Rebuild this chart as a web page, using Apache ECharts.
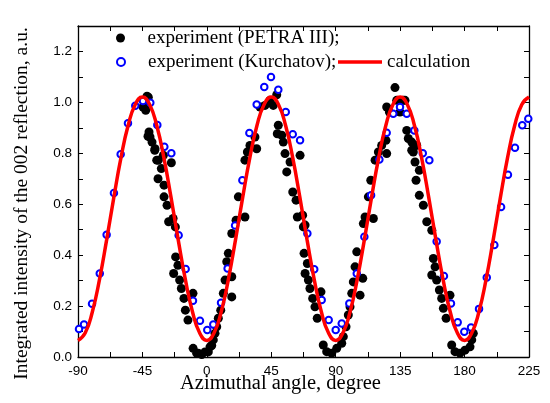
<!DOCTYPE html>
<html>
<head>
<meta charset="utf-8">
<script src="https://cdn.jsdelivr.net/npm/echarts@6/dist/echarts.min.js"></script>
<style>html,body{margin:0;padding:0;background:#fff}#c{width:550px;height:403px}</style>
</head>
<body>
<div id="c"></div>
<script>
// PETRA III experiment: [angle, intensity]
const petraAngles = [-44.6,-42.7,-42.0,-41.8,-40.9,-41.1,-40.4,-39.7,-38.3,-36.4,-36.2,-35.0,-34.1,-33.9,-31.8,-30.4,-29.9,-29.9,-27.8,-26.7,-24.8,-23.6,-23.2,-22.0,-21.8,-20.2,-19.0,-17.8,-16.0,-15.0,-13.2,-9.7,-9.6,-7.1,-6.0,-3.6,-1.3,1.0,2.2,3.4,4.5,5.7,6.9,8.0,9.7,11.5,12.7,13.9,15.0,17.4,17.4,17.4,20.4,22.0,26.6,26.6,28.3,30.1,33.6,34.8,37.1,40.6,44.1,46.4,48.8,49.2,49.9,52.3,53.4,54.6,55.8,58.1,60.0,62.3,63.2,65.1,66.9,67.4,67.9,68.6,68.6,70.2,70.9,72.0,73.9,75.5,77.1,79.7,81.3,83.7,87.2,90.7,94.2,95.3,97.2,98.8,100.0,101.2,102.3,103.5,104.7,107.0,108.9,109.3,110.5,112.8,114.5,116.3,117.5,119.8,122.1,125.1,125.6,125.6,127.5,131.4,132.6,134.9,137.2,138.4,139.6,140.7,143.1,143.1,144.2,145.4,146.1,146.6,148.4,148.4,151.2,153.6,157.1,157.1,158.2,159.4,160.5,162.4,164.0,165.2,167.1,169.8,171.0,173.3,176.8,180.3,183.8,185.0,186.1];
const petraValues = [0.982,0.969,0.984,1.024,1.02,0.867,0.884,0.864,0.844,0.812,0.818,0.773,0.700,0.773,0.740,0.792,0.675,0.629,0.596,0.531,0.763,0.544,0.328,0.511,0.393,0.360,0.302,0.269,0.230,0.184,0.145,0.250,0.034,0.015,0.015,0.010,0.020,0.020,0.040,0.045,0.067,0.093,0.119,0.152,0.184,0.250,0.302,0.374,0.407,0.315,0.236,0.485,0.537,0.629,0.550,0.773,0.805,0.831,0.864,0.818,0.982,0.988,1.008,0.988,1.030,0.877,0.910,0.871,0.844,0.799,0.727,0.766,0.648,0.616,0.550,0.792,0.557,0.511,0.407,0.328,0.518,0.367,0.302,0.269,0.230,0.197,0.152,0.256,0.047,0.021,0.015,0.034,0.054,0.080,0.119,0.165,0.197,0.250,0.295,0.354,0.413,0.243,0.309,0.524,0.550,0.629,0.694,0.544,0.773,0.805,0.831,0.851,0.799,0.982,0.962,1.058,1.008,0.962,1.008,1.008,0.890,0.858,0.844,0.812,0.805,0.766,0.694,0.831,0.733,0.635,0.596,0.531,0.498,0.322,0.387,0.354,0.302,0.263,0.230,0.191,0.152,0.243,0.047,0.021,0.015,0.027,0.040,0.067,0.093];

// Kurchatov experiment
const kurAngles = [-89.3,-85.8,-80.2,-74.8,-70.0,-64.9,-60.2,-55.1,-50.0,-44.6,-39.5,-34.6,-29.7,-24.8,-19.7,-14.8,-9.7,-4.8,0.3,4.5,9.9,14.5,19.7,24.8,29.7,34.8,40.1,44.8,49.9,55.1,60.0,65.1,70.2,75.0,80.2,85.1,90.0,94.2,99.5,104.7,110.0,114.7,120.5,125.6,130.2,134.9,139.6,144.9,150.8,155.4,160.5,165.6,170.5,175.2,179.8,184.5,190.1,195.5,200.8,205.5,210.3,215.2,220.3,224.5];
const kurValues = [0.110,0.128,0.209,0.328,0.480,0.644,0.796,0.918,0.987,1.005,0.999,0.911,0.826,0.800,0.478,0.346,0.221,0.142,0.106,0.128,0.213,0.348,0.516,0.694,0.880,0.992,1.060,1.100,1.050,0.962,0.875,0.851,0.485,0.345,0.224,0.145,0.106,0.132,0.210,0.328,0.472,0.635,0.776,0.881,0.955,0.982,0.955,0.890,0.800,0.773,0.454,0.318,0.210,0.136,0.099,0.116,0.189,0.312,0.440,0.589,0.716,0.822,0.910,0.936];

// Calculation curve
const calcAngles = [-90,-85,-80,-75,-70,-65,-60,-55,-50,-45,-40,-35,-30,-25,-20,-15,-10,-5,0,5,10,15,20,25,30,35,40,45,50,55,60,65,70,75,80,85,90,95,100,105,110,115,120,125,130,135,140,145,150,155,160,165,170,175,180,185,190,195,200,205,210,215,220,225];
const calcValues = [0.065,0.094,0.177,0.304,0.460,0.626,0.782,0.909,0.992,1.021,0.992,0.909,0.782,0.626,0.460,0.304,0.177,0.094,0.065,0.094,0.177,0.304,0.460,0.626,0.782,0.909,0.992,1.021,0.992,0.909,0.782,0.626,0.460,0.304,0.177,0.094,0.065,0.094,0.177,0.304,0.460,0.626,0.782,0.909,0.992,1.021,0.992,0.909,0.782,0.626,0.460,0.304,0.177,0.094,0.065,0.094,0.177,0.304,0.460,0.626,0.782,0.909,0.992,1.021];

const xTickLabels = [-90,-45,0,45,90,135,180,225];
const yTickLabels = ['0.0','0.2','0.4','0.6','0.8','1.0','1.2'];

const zip = (a, b) => a.map((v, i) => [v, b[i]]);
const serif = '"Liberation Serif", "Times New Roman", serif';
const sans = '"Liberation Sans", Arial, sans-serif';
const tickStyle = {show: true, inside: true, length: 5, lineStyle: {color: '#000', width: 1}};
const lineStyle = {show: true, onZero: false, lineStyle: {color: '#000', width: 1.3}};
const legendText = {fontFamily: serif, fontSize: 19, color: '#000', lineHeight: 20};

const chart = echarts.init(document.getElementById('c'));
chart.setOption({
  animation: false,
  backgroundColor: '#fff',
  grid: {left: 78, right: 21, top: 26, bottom: 46, containLabel: false, outerBoundsMode: 'none'},
  xAxis: [{
    type: 'value', min: -90, max: 225, interval: 22.5,
    axisLine: lineStyle, axisTick: tickStyle, splitLine: {show: false},
    axisLabel: {margin: 7, fontFamily: sans, fontSize: 13.5, color: '#000',
      formatter: v => xTickLabels.includes(v) ? String(v) : ''},
    name: 'Azimuthal angle, degree', nameLocation: 'middle', nameGap: 16, nameMoveOverlap: false,
    nameTextStyle: {fontFamily: serif, fontSize: 20.5, color: '#000', padding: [0, 46, 0, 0]}
  }, {
    type: 'value', position: 'top', min: -90, max: 225, interval: 22.5,
    axisLine: lineStyle, axisTick: tickStyle, axisLabel: {show: false}, splitLine: {show: false}
  }],
  yAxis: [{
    type: 'value', min: 0, max: 1.3, interval: 0.1,
    axisLine: lineStyle, axisTick: tickStyle, splitLine: {show: false},
    axisLabel: {margin: 6, fontFamily: sans, fontSize: 13.5, color: '#000',
      formatter: v => { const s = v.toFixed(1); return yTickLabels.includes(s) ? s : ''; }},
    name: 'Integrated intensity of the 002 reflection, a.u.', nameLocation: 'middle', nameGap: 46, nameMoveOverlap: false,
    nameTextStyle: {fontFamily: serif, fontSize: 19.5, color: '#000', padding: [0, 24, 0, 0]}
  }, {
    type: 'value', position: 'right', min: 0, max: 1.3, interval: 0.1,
    axisLine: lineStyle, axisTick: tickStyle, axisLabel: {show: false}, splitLine: {show: false}
  }],
  legend: [{
    data: [{name: 'experiment (PETRA III);', icon: 'circle'}], left: 116, top: 28, padding: 0,
    itemWidth: 44, itemHeight: 9, textStyle: legendText
  }, {
    data: [{name: 'experiment (Kurchatov);', icon: 'circle'}], left: 116, top: 52, padding: 0,
    itemWidth: 44, itemHeight: 8, textStyle: legendText
  }, {
    data: [{name: 'calculation', icon: 'rect'}], left: 338, top: 52, padding: 0,
    itemWidth: 44, itemHeight: 3.5, textStyle: legendText
  }],
  series: [{
    name: 'experiment (PETRA III);', type: 'scatter', symbol: 'circle', symbolSize: 9,
    itemStyle: {color: '#000', opacity: 1}, data: zip(petraAngles, petraValues), z: 2
  }, {
    name: 'experiment (Kurchatov);', type: 'scatter', symbol: 'circle', symbolSize: 6.5,
    itemStyle: {color: '#fff', borderColor: '#0000ff', borderWidth: 2, opacity: 1}, data: zip(kurAngles, kurValues), z: 3
  }, {
    name: 'calculation', type: 'line', smooth: true, symbol: 'none', showSymbol: false,
    lineStyle: {color: '#ff0000', width: 3.5}, itemStyle: {color: '#ff0000'},
    data: zip(calcAngles, calcValues), z: 4
  }]
});
</script>
</body>
</html>
